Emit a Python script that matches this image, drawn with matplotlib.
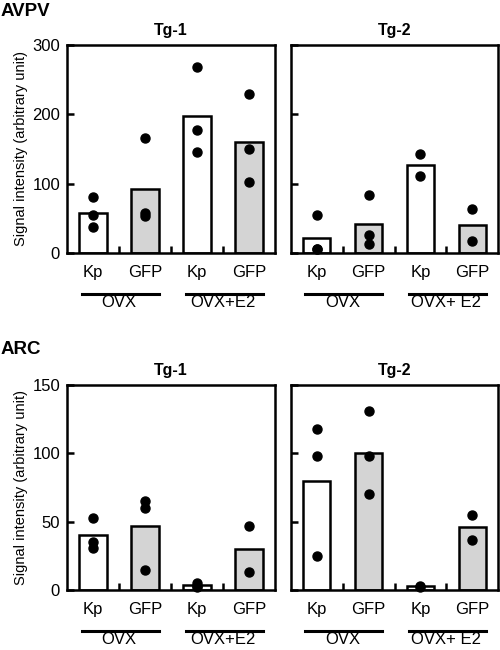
import matplotlib.pyplot as plt
import numpy as np

plt.rcParams['font.family'] = ['Liberation Sans', 'DejaVu Sans']

groups = ["Kp", "GFP", "Kp", "GFP"]
treatments = ["OVX", "OVX+E2"]
treatments_tg2 = ["OVX", "OVX+ E2"]
panels = ["Tg-1", "Tg-2"]

# AVPV: bar heights and individual points
avpv_tg1_bars = [57, 92, 197, 160]
avpv_tg1_dots = [[80, 54, 38], [165, 57, 53], [268, 177, 145], [229, 150, 102]]
avpv_tg2_bars = [21, 41, 127, 40]
avpv_tg2_dots = [[54, 5, 5], [84, 26, 13], [143, 111], [63, 17]]

# ARC
arc_tg1_bars = [40, 47, 3.5, 30]
arc_tg1_dots = [[53, 35, 31], [65, 60, 15], [5, 3, 2], [47, 13]]
arc_tg2_bars = [80, 100, 3, 46]
arc_tg2_dots = [[118, 98, 25], [131, 98, 70], [3, 2], [55, 37]]

bar_colors = ["white", "#d4d4d4", "white", "#d4d4d4"]

fig = plt.figure(figsize=(5, 6.5), dpi=100)


def draw_panel(rect, bars, dots, ymax, yticks, title, treat, show_labels):
    ax = fig.add_axes(rect)
    x = np.arange(4)
    ax.bar(x, bars, width=0.52, color=bar_colors, edgecolor="black", linewidth=1.8, zorder=2)
    for i, pts in enumerate(dots):
        ax.plot([i] * len(pts), pts, "o", color="black", markersize=6.5, clip_on=False, zorder=3)
    ax.set_xlim(-0.5, 3.5)
    ax.set_ylim(0, ymax)
    ax.set_yticks(yticks)
    ax.set_xticks([])
    ax.set_xticks([0.5, 1.5, 2.5], minor=True)
    ax.tick_params(axis="x", which="minor", direction="in", length=5, width=1.8, labelbottom=False)
    ax.tick_params(axis="y", direction="in", length=5, width=1.8, labelsize=12, pad=5)
    if not show_labels:
        ax.set_yticklabels([])
    else:
        ax.set_ylabel("Signal intensity (arbitrary unit)", fontsize=10.5, labelpad=3)
    for s in ax.spines.values():
        s.set_linewidth(1.8)
    ax.set_title(title, fontsize=11.5, fontweight="bold", pad=7)
    tr = ax.get_xaxis_transform()
    for i, g in enumerate(groups):
        ax.text(i, -0.096, g, transform=tr, ha="center", va="center", fontsize=12)
    for k, t in enumerate(treat):
        x0 = 2 * k - 0.22
        x1 = 2 * k + 1.26
        ax.plot([x0, x1], [-0.2, -0.2], transform=tr, color="black", linewidth=2.2, clip_on=False)
        ax.text(2 * k + 0.5, -0.24, t, transform=tr, ha="center", va="center", fontsize=12)
    return ax


draw_panel([0.134, 0.611, 0.416, 0.32], avpv_tg1_bars, avpv_tg1_dots, 300, [0, 100, 200, 300],
           panels[0], treatments, True)
draw_panel([0.582, 0.611, 0.414, 0.32], avpv_tg2_bars, avpv_tg2_dots, 300, [0, 100, 200, 300],
           panels[1], treatments_tg2, False)
draw_panel([0.134, 0.092, 0.416, 0.316], arc_tg1_bars, arc_tg1_dots, 150, [0, 50, 100, 150],
           panels[0], treatments, True)
draw_panel([0.582, 0.092, 0.414, 0.316], arc_tg2_bars, arc_tg2_dots, 150, [0, 50, 100, 150],
           panels[1], treatments_tg2, False)

fig.text(0.002, 1 - 12 / 650, "AVPV", fontsize=13.5, fontweight="bold", va="center", ha="left")
fig.text(0.002, 1 - 350 / 650, "ARC", fontsize=13.5, fontweight="bold", va="center", ha="left")

fig.savefig("out.png", dpi=100)
